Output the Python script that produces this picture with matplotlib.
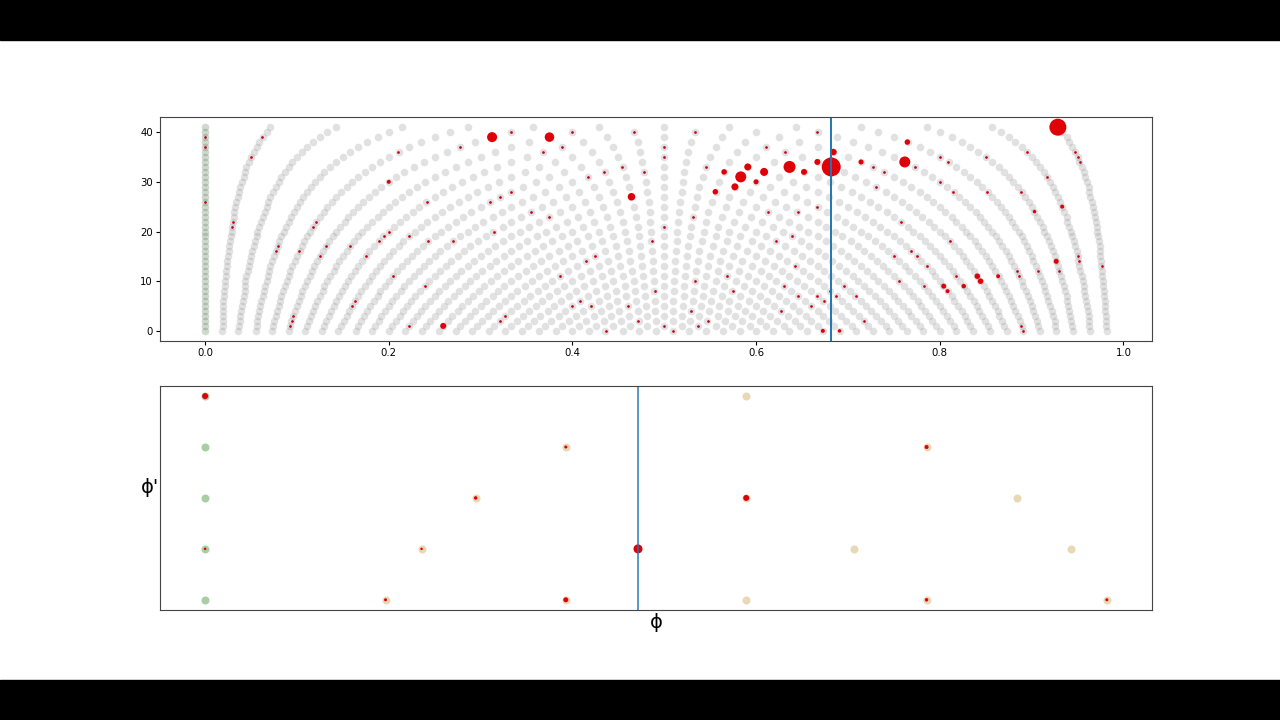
# -*- coding: utf-8 -*-
import matplotlib
matplotlib.use('Agg')
import matplotlib.pyplot as plt
from matplotlib.patches import Rectangle

# 上圖: 灰色點, 每列一個 list, 數值為 x*1000, 由 y=0 往上到 y=41
gray_rows = [
    [0,18,36,55,73,91,109,127,145,164,182,200,218,236,255,273,291,309,327,345,364,382,400,418,436,455,473,491,509,527,545,564,582,600,618,636,655,673,691,709,727,745,764,782,800,818,836,855,873,891,909,927,945,964,982],
    [0,19,37,56,74,93,111,130,148,167,185,204,222,241,259,278,296,315,333,352,370,389,407,426,444,463,481,500,519,537,556,574,593,611,630,648,667,685,704,722,741,759,778,796,815,833,852,870,889,907,926,944,963,981],
    [0,19,38,57,75,94,113,132,151,170,189,208,226,245,264,283,302,321,340,358,377,396,415,434,453,472,491,509,528,547,566,585,604,623,642,660,679,698,717,736,755,774,792,811,830,849,868,887,906,925,943,962,981],
    [0,19,38,58,77,96,115,135,154,173,192,212,231,250,269,288,308,327,346,365,385,404,423,442,462,481,500,519,538,558,577,596,615,635,654,673,692,712,731,750,769,788,808,827,846,865,885,904,923,942,962,981],
    [0,20,39,59,78,98,118,137,157,176,196,216,235,255,275,294,314,333,353,373,392,412,431,451,471,490,510,529,549,569,588,608,627,647,667,686,706,725,745,765,784,804,824,843,863,882,902,922,941,961,980],
    [0,20,40,60,80,100,120,140,160,180,200,220,240,260,280,300,320,340,360,380,400,420,440,460,480,500,520,540,560,580,600,620,640,660,680,700,720,740,760,780,800,820,840,860,880,900,920,940,960,980],
    [0,20,41,61,82,102,122,143,163,184,204,224,245,265,286,306,327,347,367,388,408,429,449,469,490,510,531,551,571,592,612,633,653,673,694,714,735,755,776,796,816,837,857,878,898,918,939,959,980],
    [0,21,42,63,83,104,125,146,167,188,208,229,250,271,292,313,333,354,375,396,417,438,458,479,500,521,542,563,583,604,625,646,667,688,708,729,750,771,792,813,833,854,875,896,917,938,958,979],
    [0,21,43,64,85,106,128,149,170,191,213,234,255,277,298,319,340,362,383,404,426,447,468,489,511,532,553,574,596,617,638,660,681,702,723,745,766,787,809,830,851,872,894,915,936,957,979],
    [0,22,43,65,87,109,130,152,174,196,217,239,261,283,304,326,348,370,391,413,435,457,478,500,522,543,565,587,609,630,652,674,696,717,739,761,783,804,826,848,870,891,913,935,957,978],
    [0,22,44,67,89,111,133,156,178,200,222,244,267,289,311,333,356,378,400,422,444,467,489,511,533,556,578,600,622,644,667,689,711,733,756,778,800,822,844,867,889,911,933,956,978],
    [0,23,45,68,91,114,136,159,182,205,227,250,273,295,318,341,364,386,409,432,455,477,500,523,545,568,591,614,636,659,682,705,727,750,773,795,818,841,864,886,909,932,955,977],
    [0,23,47,70,93,116,140,163,186,209,233,256,279,302,326,349,372,395,419,442,465,488,512,535,558,581,605,628,651,674,698,721,744,767,791,814,837,860,884,907,930,953,977],
    [0,24,48,71,95,119,143,167,190,214,238,262,286,310,333,357,381,405,429,452,476,500,524,548,571,595,619,643,667,690,714,738,762,786,810,833,857,881,905,929,952,976],
    [0,24,49,73,98,122,146,171,195,220,244,268,293,317,341,366,390,415,439,463,488,512,537,561,585,610,634,659,683,707,732,756,780,805,829,854,878,902,927,951,976],
    [0,25,50,75,100,125,150,175,200,225,250,275,300,325,350,375,400,425,450,475,500,525,550,575,600,625,650,675,700,725,750,775,800,825,850,875,900,925,950,975],
    [0,26,51,77,103,128,154,179,205,231,256,282,308,333,359,385,410,436,462,487,513,538,564,590,615,641,667,692,718,744,769,795,821,846,872,897,923,949,974],
    [0,26,53,79,105,132,158,184,211,237,263,289,316,342,368,395,421,447,474,500,526,553,579,605,632,658,684,711,737,763,789,816,842,868,895,921,947,974],
    [0,27,54,81,108,135,162,189,216,243,270,297,324,351,378,405,432,459,486,514,541,568,595,622,649,676,703,730,757,784,811,838,865,892,919,946,973],
    [0,28,56,83,111,139,167,194,222,250,278,306,333,361,389,417,444,472,500,528,556,583,611,639,667,694,722,750,778,806,833,861,889,917,944,972],
    [0,29,57,86,114,143,171,200,229,257,286,314,343,371,400,429,457,486,514,543,571,600,629,657,686,714,743,771,800,829,857,886,914,943,971],
    [0,29,59,88,118,147,176,206,235,265,294,324,353,382,412,441,471,500,529,559,588,618,647,676,706,735,765,794,824,853,882,912,941,971],
    [0,30,61,91,121,152,182,212,242,273,303,333,364,394,424,455,485,515,545,576,606,636,667,697,727,758,788,818,848,879,909,939,970],
    [0,31,63,94,125,156,188,219,250,281,313,344,375,406,438,469,500,531,563,594,625,656,688,719,750,781,813,844,875,906,938,969],
    [0,32,65,97,129,161,194,226,258,290,323,355,387,419,452,484,516,548,581,613,645,677,710,742,774,806,839,871,903,935,968],
    [0,33,67,100,133,167,200,233,267,300,333,367,400,433,467,500,533,567,600,633,667,700,733,767,800,833,867,900,933,967],
    [0,34,69,103,138,172,207,241,276,310,345,379,414,448,483,517,552,586,621,655,690,724,759,793,828,862,897,931,966],
    [0,36,71,107,143,179,214,250,286,321,357,393,429,464,500,536,571,607,643,679,714,750,786,821,857,893,929,964],
    [0,37,74,111,148,185,222,259,296,333,370,407,444,481,519,556,593,630,667,704,741,778,815,852,889,926,963],
    [0,38,77,115,154,192,231,269,308,346,385,423,462,500,538,577,615,654,692,731,769,808,846,885,923,962],
    [0,40,80,120,160,200,240,280,320,360,400,440,480,520,560,600,640,680,720,760,800,840,880,920,960],
    [0,42,83,125,167,208,250,292,333,375,417,458,500,542,583,625,667,708,750,792,833,875,917,958],
    [0,43,87,130,174,217,261,304,348,391,435,478,522,565,609,652,696,739,783,826,870,913,957],
    [0,45,91,136,182,227,273,318,364,409,455,500,545,591,636,682,727,773,818,864,909,955],
    [0,48,95,143,190,238,286,333,381,429,476,524,571,619,667,714,762,810,857,905,952],
    [0,50,100,150,200,250,300,350,400,450,500,550,600,650,700,750,800,850,900,950],
    [0,53,105,158,211,263,316,368,421,474,526,579,632,684,737,789,842,895,947],
    [0,56,111,167,222,278,333,389,444,500,556,611,667,722,778,833,889,944],
    [0,59,118,176,235,294,353,412,471,529,588,647,706,765,824,882,941],
    [0,63,125,188,250,313,375,438,500,563,625,688,750,813,875,938],
    [0,67,133,200,267,333,400,467,533,600,667,733,800,867,933],
    [0,71,143,214,286,357,429,500,571,643,714,786,857,929],
]

# 上圖: 小紅點 (x, y)
small_x = [0,0,0,.0625,.05,.0303,.0294,.0789,.0769,.1026,.0962,.0943,.0926,.1212,.1176,.1316,.125,.1579,.175,.16,.1633,.1892,.1944,.2,.2105,.2045,.2222,.2222,.2432,.2703,.2391,.2414,.2778,.3103,
           .3333,.4,.4667,.5333,.3889,.3684,.5,.5,.6111,.6316,.6667,.4545,.5455,.4348,.4783,.4167,.3333,.3214,.3548,.375,.3143,.5,.5313,.4865,.425,.4146,.3864,.4894,.5333,.5682,.5745,.4082,.4,.42,.46,.5294,.3269,.3208,.4717,.5472,.5,.537,.4364,.5091,.6129,.6452,.6667,.6389,.6216,.6429,.6304,.6458,.6667,.66,.6275,
           .7273,.7391,.7727,.8,.8095,.85,.8947,.9474,.95,.9524,.9167,.8,.7308,.8148,.8519,.8889,.7576,.8108,.7692,.775,.75,.7857,.8182,.8837,.8864,.907,.9302,.9512,.9762,.7556,.7826,.6957,.6809,.6875,.7083,.6735,.717,.8889,.8909,.95]
small_y = [39,37,26,39,35,22,21,17,16,16,3,2,1,22,21,17,15,17,15,5,6,18,19,20,36,11,1,19,18,18,9,26,37,26,
           40,40,40,40,37,36,37,35,37,36,40,33,33,32,32,31,28,27,24,23,20,21,23,18,15,14,11,8,10,11,8,6,5,5,5,4,3,2,2,2,1,1,0,0,24,24,25,19,18,13,9,7,7,5,4,
           33,32,33,35,34,35,36,36,35,34,31,30,29,28,28,28,22,18,16,15,15,13,11,12,11,12,12,14,13,10,9,9,8,7,7,6,2,1,0,15]
small_d = 2.7

# 上圖: 大紅點 (x, y, 直徑 px)
big_x = [.2,.2593,.3125,.375,.4643,.6667,.6522,.6364,.6087,.5909,.5833,.6,.5652,.5769,.5556,.6842,.6818,.7143,.7647,.7619,.9286,.8409,.8444,.8261,.8043,.8085,.8636,.9268,.6727,.6909,.9333,.9032]
big_y = [30,1,39,39,27,34,32,33,32,33,31,30,32,29,28,36,33,34,38,34,41,11,10,9,9,8,11,14,0,0,25,24]
big_d = [4,6,10,9.5,7.5,6,6,12,8,7,11,5,5.5,7,5.5,6.5,19,5,5.5,11,17,5.5,5.5,4.5,5,4,4,5,4,3.5,4,3.5]
line_top = 0.6818

# 下圖: 5 列的點
low_x = [[0,.1667,.3333,.5,.6667,.8333],
         [0,.2,.4,.6,.8],
         [0,.25,.5,.75],
         [0,.3333,.6667],
         [0,.5]]
low_red_x = [.1667,.3333,.6667,.8333,0,.2,.4,.25,.5,.3333,.6667,0]
low_red_y = [0,0,0,0,1,1,1,2,2,3,3,4]
low_red_d = [3,5,3.5,3,2.5,2.5,9,3.5,6,3,4,6]
line_low = 0.4

RED = '#e00008'


def px_to_s(d):
    # 直徑(px) 轉 scatter 的 s (pt^2), dpi=100
    return (d * 0.72) ** 2


fig, (ax1, ax2) = plt.subplots(2, 1, figsize=(12.8, 7.2), dpi=100)
plt.subplots_adjust(left=0.125, right=0.9, top=0.8375, bottom=0.1528, hspace=0.2)

# 上下黑邊
fig.patches.append(Rectangle((0, 0), 1, 40 / 720, transform=fig.transFigure, color='k'))
fig.patches.append(Rectangle((0, 680 / 720), 1, 40 / 720, transform=fig.transFigure, color='k'))

# 上圖
gx = []
gy = []
for y, row in enumerate(gray_rows):
    for v in row:
        gx.append(v / 1000)
        gy.append(y)
ax1.scatter(gx, gy, s=px_to_s(7.6), color='gray', alpha=0.23, linewidths=0)
ax1.scatter([row[0] / 1000 for row in gray_rows], range(len(gray_rows)), s=px_to_s(7.6),
            color='green', alpha=0.08, linewidths=0)
ax1.scatter(small_x, small_y, s=px_to_s(small_d), color='#c80018', linewidths=0)
ax1.scatter(big_x, big_y, s=[px_to_s(d) for d in big_d], color=RED, linewidths=0)
ax1.axvline(line_top, color='tab:blue', lw=1.4)
ax1.set_xlim(-0.0491, 1.0311)
ax1.set_ylim(-2.05, 43.05)
ax1.set_xticks([0, 0.2, 0.4, 0.6, 0.8, 1.0])
ax1.set_yticks([0, 10, 20, 30, 40])
ax1.tick_params(labelsize=7.3, length=2.6, width=0.8, pad=2.5)

# 下圖
for y, row in enumerate(low_x):
    ax2.scatter(row[1:], [y] * len(row[1:]), s=px_to_s(8), color='#e8d8b4', linewidths=0)
    ax2.scatter(row[:1], [y], s=px_to_s(8), color='#a8cfa4', linewidths=0)
ax2.scatter(low_red_x, low_red_y, s=[px_to_s(d) for d in low_red_d], color=RED, linewidths=0)
ax2.axvline(line_low, color='tab:blue', lw=1.4, alpha=0.75)
ax2.set_xlim(-0.0417, 0.875)
ax2.set_ylim(-0.2, 4.2)
ax2.set_xticks([])
ax2.set_yticks([])
ax2.set_xlabel('ϕ', fontsize=14)
ax2.set_ylabel("ϕ'", fontsize=14, rotation=0, va='center', ha='center')
ax2.xaxis.set_label_coords(0.5005, -0.013)
ax2.yaxis.set_label_coords(-0.0097, 0.545)

for ax in (ax1, ax2):
    for sp in ax.spines.values():
        sp.set_linewidth(0.8)
        sp.set_color('#444444')

plt.savefig('out.png', dpi=100)
